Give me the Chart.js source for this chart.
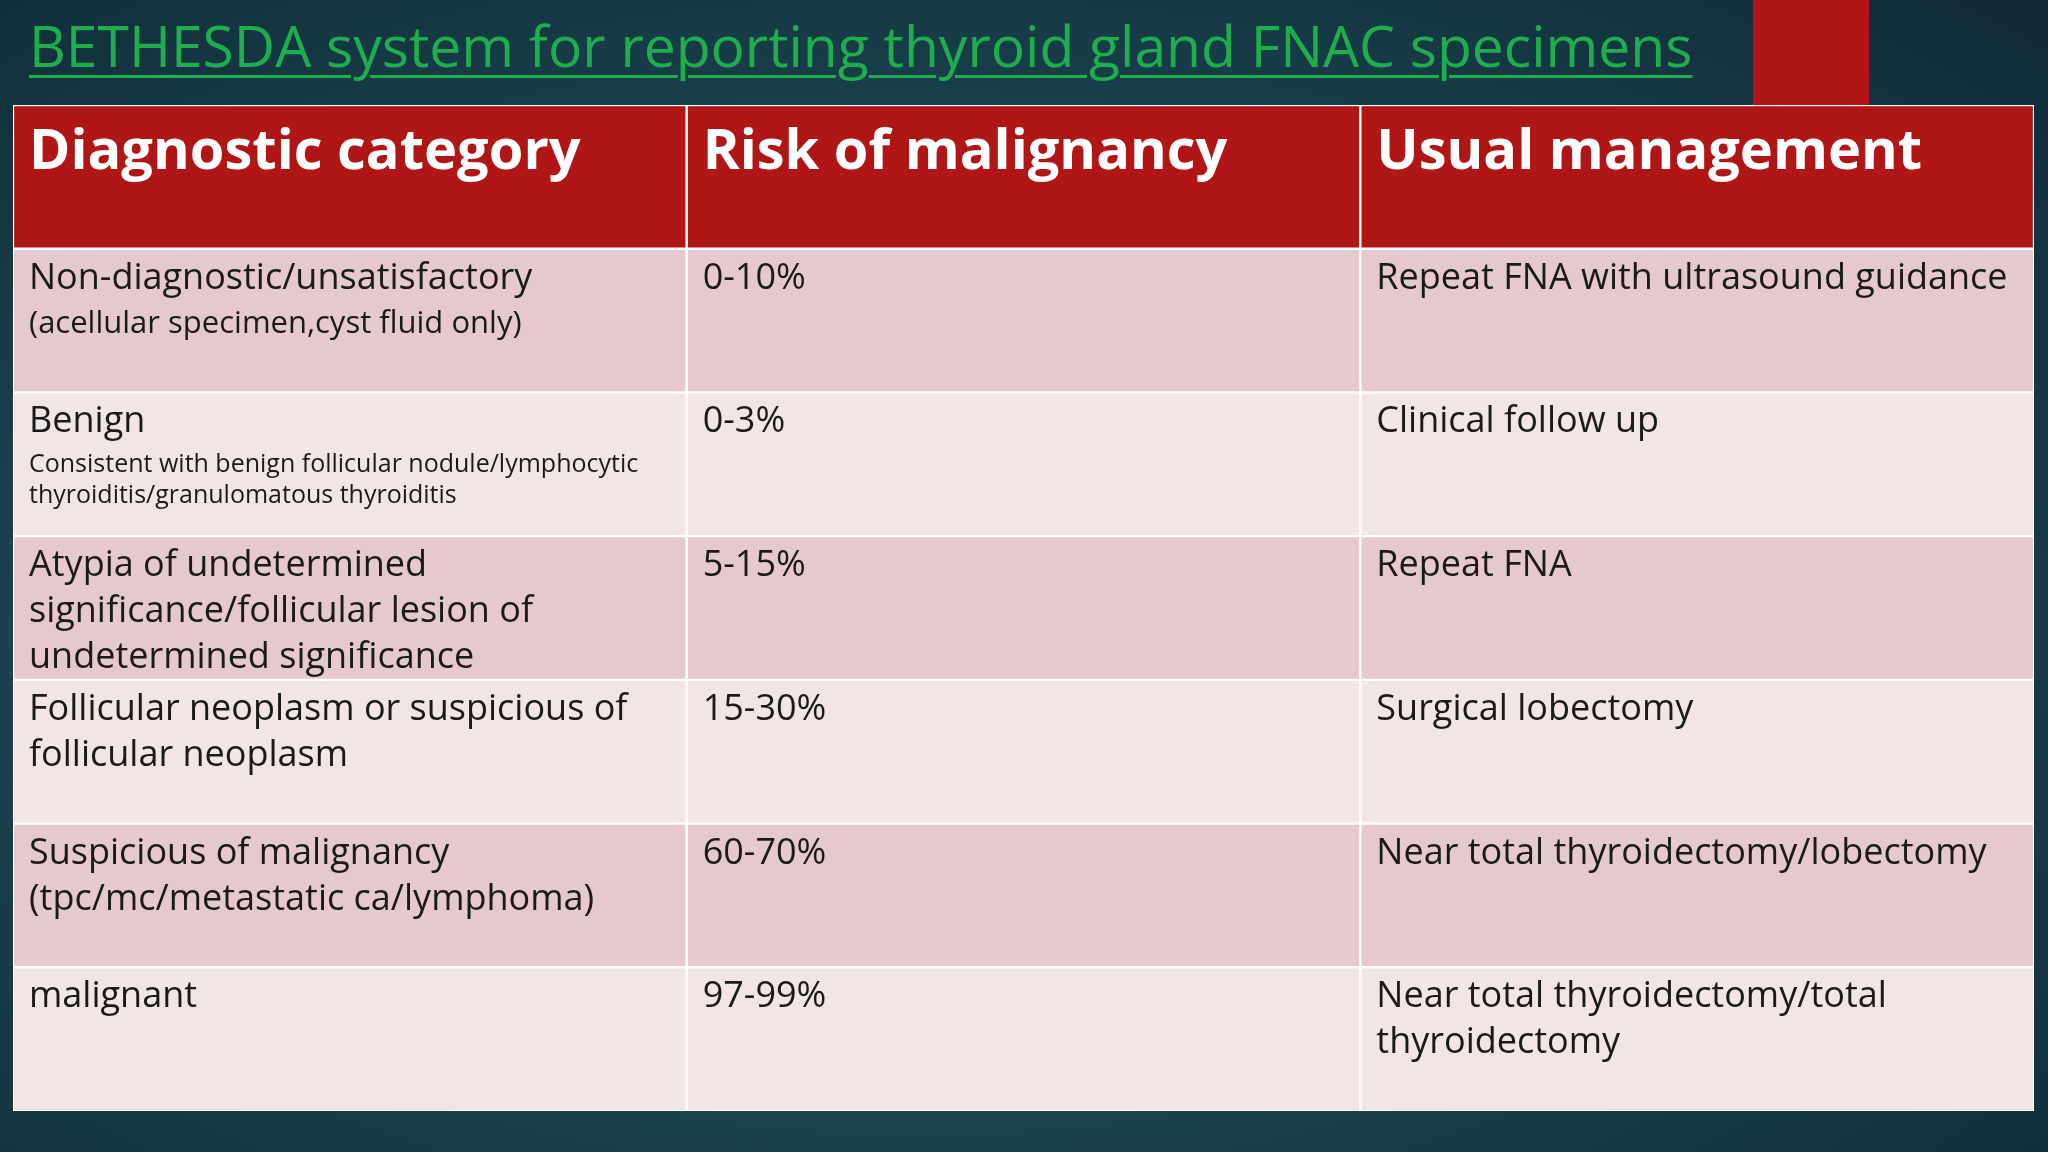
<!DOCTYPE html>
<html><head><meta charset="utf-8">
<script src="https://cdn.jsdelivr.net/npm/chart.js@4/dist/chart.umd.min.js"></script>
<style>
html,body{margin:0;padding:0;width:2048px;height:1152px;overflow:hidden;
background:radial-gradient(ellipse at 45% 55%,#2d6470 0%,#1d4754 45%,#0e2a35 100%);}
#title{position:absolute;left:29px;top:6px;font-family:"Open Sans",sans-serif;font-size:57px;color:#1fae4e;text-decoration:underline;text-decoration-thickness:3px;text-underline-offset:8px;white-space:nowrap;}
#red{position:absolute;left:1753px;top:0;width:116px;height:105px;background:#b01616;}
#c{position:absolute;left:0;top:0;}
</style></head><body>
<div id="red"></div>
<div id="title">BETHESDA system for reporting thyroid gland FNAC specimens</div>
<canvas id="c" width="2048" height="1152"></canvas>
<script>
const headers = ["Diagnostic category","Risk of malignancy","Usual management"];
const categories = [
  [["Non-diagnostic/unsatisfactory","m"],["(acellular specimen,cyst fluid only)","s"]],
  [["Benign","m"],["Consistent with benign follicular nodule/lymphocytic","x"],["thyroiditis/granulomatous thyroiditis","x"]],
  [["Atypia of undetermined","m"],["significance/follicular lesion of","m"],["undetermined significance","m"]],
  [["Follicular neoplasm or suspicious of","m"],["follicular neoplasm","m"]],
  [["Suspicious of malignancy","m"],["(tpc/mc/metastatic ca/lymphoma)","m"]],
  [["malignant","m"]]
];
const risks = ["0-10%","0-3%","5-15%","15-30%","60-70%","97-99%"];
const management = [
  ["Repeat FNA with ultrasound guidance"],
  ["Clinical follow up"],
  ["Repeat FNA"],
  ["Surgical lobectomy"],
  ["Near total thyroidectomy/lobectomy"],
  ["Near total thyroidectomy/total","thyroidectomy"]
];
const columnShares = [1,1,1];
const rowLabels = ["header","r1","r2","r3","r4","r5","r6"];
const rowColors = ["#b01616","#e6c9cc","#f2e5e5","#e6c9cc","#f2e5e5","#e6c9cc","#f2e5e5"];

const cellText = (row,col)=>{
  if(row===0) return [[headers[col],"h"]];
  const r=row-1;
  if(col===0) return categories[r];
  if(col===1) return [[risks[r],"m"]];
  return management[r].map(t=>[t,"m"]);
};
const FONT='"Open Sans","Noto Sans",sans-serif';
const styles={h:{f:'bold 56px '+FONT,c:'#ffffff',lh:60},m:{f:'36px '+FONT,c:'#1a1a1a',lh:46},s:{f:'31px '+FONT,c:'#1a1a1a',lh:44},x:{f:'25px '+FONT,c:'#1a1a1a',lh:31}};

const textPlugin={id:'cellText',afterDatasetsDraw(chart){
  const ctx=chart.ctx;
  chart.data.datasets.forEach((ds,col)=>{
    chart.getDatasetMeta(col).data.forEach((el,row)=>{
      const left=Math.min(el.x,el.base), top=el.y-el.height/2;
      let y=top+(row===0?64:40);
      const lines=cellText(row,col);
      ctx.save();ctx.textBaseline='alphabetic';
      lines.forEach((ln,i)=>{
        const st=styles[ln[1]];
        if(i>0){ y+= (ln[1]==='x'? (lines[i-1][1]==='m'?40:st.lh): st.lh); }
        ctx.font=st.f;ctx.fillStyle=st.c;ctx.fillText(ln[0],left+16,y);
      });
      ctx.restore();
    });
  });
}};

new Chart(document.getElementById('c'),{
  type:'bar',
  data:{labels:rowLabels,datasets:columnShares.map(v=>({
    data:rowLabels.map(()=>v),backgroundColor:rowColors,borderColor:'#ffffff',borderWidth:1.5,borderSkipped:false,
    categoryPercentage:1,barPercentage:1}))},
  options:{indexAxis:'y',responsive:false,devicePixelRatio:1,animation:false,
    layout:{padding:{left:13,right:14,top:105,bottom:41}},
    plugins:{legend:{display:false},tooltip:{enabled:false}},
    scales:{x:{stacked:true,min:0,max:3,display:false},y:{stacked:true,display:false}}},
  plugins:[textPlugin]
});
</script></body></html>
